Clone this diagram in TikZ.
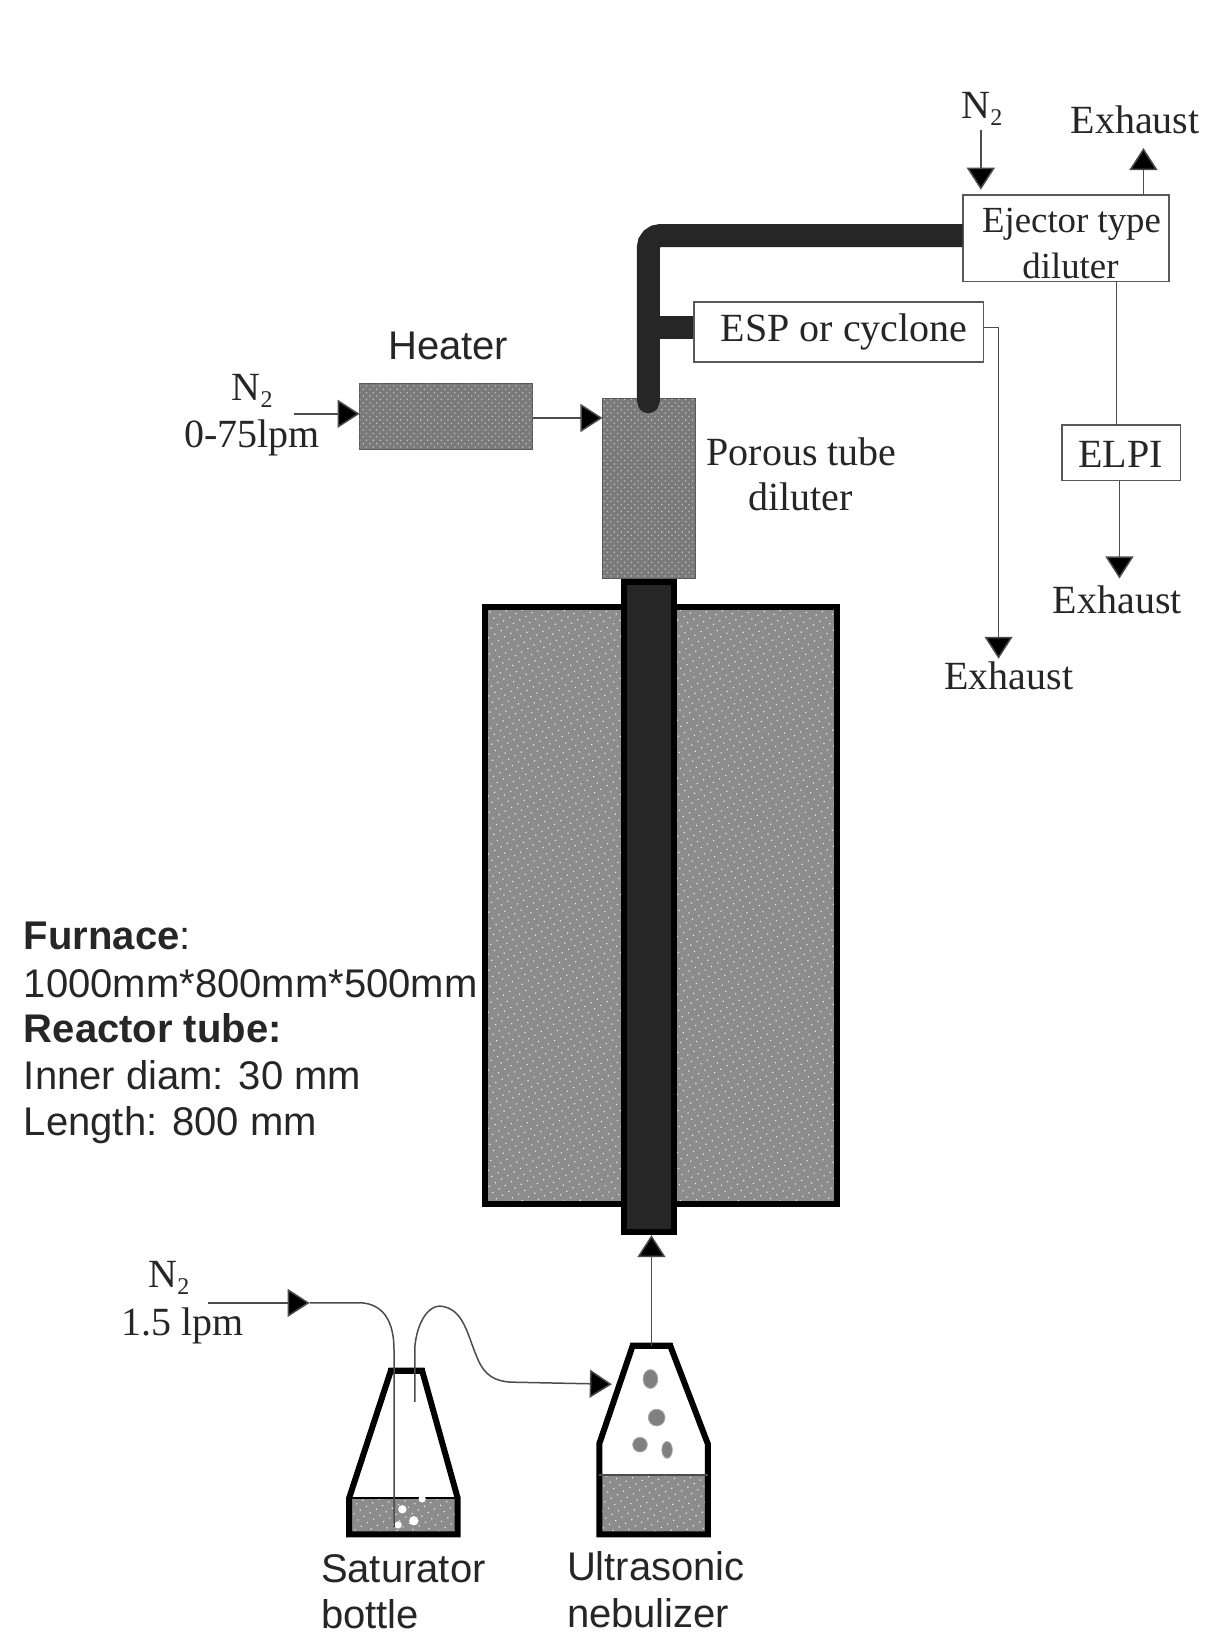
\documentclass[tikz,border=0pt]{standalone}
\usepackage{fontspec}
\setmainfont{Liberation Serif}
\newfontfamily\arialf{Liberation Sans}
\usetikzlibrary{arrows.meta,patterns.meta,positioning}
\def\un{0.52115pt}
\newcommand{\Ntwo}{N\raisebox{-3.5pt}{\fontsize{12}{12}\selectfont 2}}
\tikzset{
  x=0.52115pt,y=-0.52115pt,
  serif/.style={font=\fontsize{20}{22}\selectfont,text=black!85,inner sep=0,outer sep=0,anchor=base,yshift=-0.6pt},
  serifn/.style={serif,font=\fontsize{18.4}{20}\selectfont},
  sans/.style={font=\arialf\fontsize{20}{22}\selectfont,text=black!85,inner sep=0,outer sep=0,anchor=base,yshift=-0.8pt},
  sansl/.style={sans,anchor=base west},
  wbox/.style={draw=black!65,line width=0.9pt,fill=white,inner sep=0,outer sep=0},
  dbox/.style={fill=black!52,inner sep=0,outer sep=0,draw=black!65,line width=0.6pt},
  fine/.style={draw=black!70,line width=0.75pt},
  flow/.style={fine,-{Triangle[length=11pt,width=14pt,fill=black]}},
  pipe/.style={draw=black!85,line width=11.5pt},
  wall/.style={draw=black,line width=3pt,line join=miter},
  bubble/.style={fill=white,draw=none},
  drop/.style={fill=black!50,draw=black!35,line width=0.4pt},
  speck/.style={pattern={Dots[radius=0.42pt,distance=3.6pt,angle=30]},pattern color=white!92!black},
  speckd/.style={pattern={Dots[radius=0.45pt,distance=2.4pt,angle=45]},pattern color=white!75!black},
}
\begin{document}
\begin{tikzpicture}
\useasboundingbox (0,0) rectangle (1157,1568.6);
\fill[white] (0,0) rectangle (1157,1568.6);

% Furnace
\node[inner sep=0,outer sep=0,minimum width=338*\un,minimum height=573*\un,fill=black!45,draw=black,line width=3pt] (furn) at (634,868.5) {};
\fill[speck] (furn.south west) rectangle (furn.north east);
\draw[draw=black,line width=3pt] (furn.south west) rectangle (furn.north east);

% Heater & porous tube
\node[dbox,minimum width=166*\un,minimum height=63*\un] (heater) at (428,399.5) {};
\fill[speckd] (heater.south west) rectangle (heater.north east);
\node[dbox,minimum width=89*\un,minimum height=173*\un] (porous) at (622.5,468.5) {};
\fill[speckd] (porous.south west) rectangle (porous.north east);

% Reactor tube
\node[inner sep=0,outer sep=0,minimum width=48*\un,minimum height=624*\un,fill=black!85,draw=black,line width=3pt] (tube) at (623,870) {};

% Boxes
\node[wbox,minimum width=198*\un,minimum height=83*\un] (ejector) at (1022.5,228.5) {};
\node[wbox,minimum width=278*\un,minimum height=57*\un] (esp) at (804.5,318.5) {};
\node[wbox,minimum width=114*\un,minimum height=53*\un] (elpi) at (1075.5,434.5) {};

% Thick pipes
\coordinate (pipeB) at (622,386);
\coordinate (pipeC) at (622,226);
\coordinate (espIn) at (665,314);
\coordinate (espT) at (622,314);
\draw[pipe,rounded corners=6pt] (pipeB) -- (pipeC) -- (ejector.west |- pipeC);
\fill[black!85] (pipeB) circle (10.5);
\draw[pipe] (espT) -- (espIn);

% Fine connectors at the top right
\coordinate (nTop) at (941,125);
\coordinate (nTip) at (941,182);
\coordinate (exUp) at (1097,142);
\coordinate (ejOut) at (1097,187);
\coordinate (ejEl) at (1071,270);
\coordinate (elEj) at (1071,408);
\coordinate (elOut) at (1074,461);
\coordinate (elTip) at (1074,555);
\coordinate (espOut) at (943,314);
\coordinate (espBend) at (958,314);
\coordinate (espTip) at (958,632);
\draw[flow] (nTop) -- (nTip);
\draw[flow] (ejOut) -- (exUp);
\draw[fine] (ejEl) -- (elEj);
\draw[flow] (elOut) -- (elTip);
\draw[flow] (espOut) -- (espBend) -- (espTip);

% Heater connectors
\coordinate (hIn) at (282,397);
\coordinate (hTipIn) at (345,397);
\coordinate (hOut) at (511,401);
\coordinate (hTipOut) at (578,401);
\draw[flow] (hIn) -- (hTipIn);
\draw[flow] (hOut) -- (hTipOut);

% Saturator bottle
\fill[black!45] (336,1437) rectangle (438,1470);
\fill[speck] (336,1437) rectangle (438,1470);
\draw[wall] (335,1472) -- (335,1437) -- (375,1315) -- (405,1315) -- (439,1437) -- (439,1472) -- cycle;
\draw[draw=black,line width=1pt] (335,1437) -- (439,1437);
\draw[draw=black,line width=3pt] (372,1315) -- (408,1315);
\fill[bubble] (386,1448) circle (4);
\fill[bubble] (405,1438) circle (3.5);
\fill[bubble] (397,1459) circle (4.5);
\fill[bubble] (382,1463) circle (3.5);

% Nebulizer
\fill[black!45] (576,1415) rectangle (679,1470);
\fill[speck] (576,1415) rectangle (679,1470);
\draw[wall] (575,1472) -- (575,1385) -- (607,1291) -- (643,1291) -- (679,1385) -- (679,1472) -- cycle;
\draw[draw=black!70,line width=0.8pt] (575,1415) -- (679,1415);
\draw[draw=black,line width=3pt] (604,1291) -- (646,1291);
\fill[drop] (624,1323) ellipse (7 and 9);
\fill[drop] (630,1360) circle (8);
\fill[drop] (614,1386) circle (7);
\fill[drop] (640,1391) ellipse (5 and 8);

% Gas lines
\coordinate (satIn) at (200,1250);
\coordinate (satTip) at (297,1250);
\coordinate (satDown) at (378,1465);
\coordinate (satRet) at (398,1345);
\coordinate (nebTip) at (587,1328);
\coordinate (nebTop) at (625,1291);
\coordinate (tubeBot) at (625,1185);
\draw[flow] (satIn) -- (satTip);
\draw[fine] (satTip) -- (348,1250) .. controls (368,1252) and (378,1268) .. (378,1295) -- (satDown);
\draw[flow] (satRet) -- (398,1292) .. controls (400,1270) and (410,1253) .. (422,1253)
  .. controls (445,1255) and (448,1280) .. (458,1303)
  .. controls (465,1320) and (475,1325) .. (490,1326) -- (nebTip);
\draw[flow] (nebTop) -- (tubeBot);

% Labels
\node[serif] (t1) at (942,113) {\Ntwo};
\node[serif] (t2) at (1089,127) {Exhaust};
\node[serifn] (t3) at (1028,222) {Ejector type};
\node[serifn] (t4) at (1027,266) {diluter};
\node[serif] (t5) at (810,326) {ESP or cyclone};
\node[serif] (t6) at (1075,447) {ELPI};
\node[serif] (t7) at (1072,587) {Exhaust};
\node[serif] (t8) at (968,660) {Exhaust};
\node[sans] (t9) at (430,343) {Heater};
\node[serif] (t10) at (769,445) {Porous tube};
\node[serif] (t11) at (768,489) {diluter};
\node[serif] (t12) at (242,383) {\Ntwo};
\node[serif] (t13) at (242,428) {0-75lpm};
\node[serif] (t14) at (162,1234) {\Ntwo};
\node[serif] (t15) at (175,1280) {1.5 lpm};
\node[sansl] (t16) at (308,1517) {Saturator};
\node[sansl] (t17) at (308,1561) {bottle};
\node[sansl] (t18) at (544,1515) {Ultrasonic};
\node[sansl] (t19) at (544,1560) {nebulizer};
\node[sansl] (t20) at (23,909) {\textbf{Furnace}:};
\node[sansl] (t21) at (23,955) {1000mm*800mm*500mm};
\node[sansl] (t22) at (23,999) {\textbf{Reactor tube:}};
\node[sansl] (t23) at (23,1044) {Inner diam: 30 mm};
\node[sansl] (t24) at (23,1088) {Length: 800 mm};
\end{tikzpicture}
\end{document}
